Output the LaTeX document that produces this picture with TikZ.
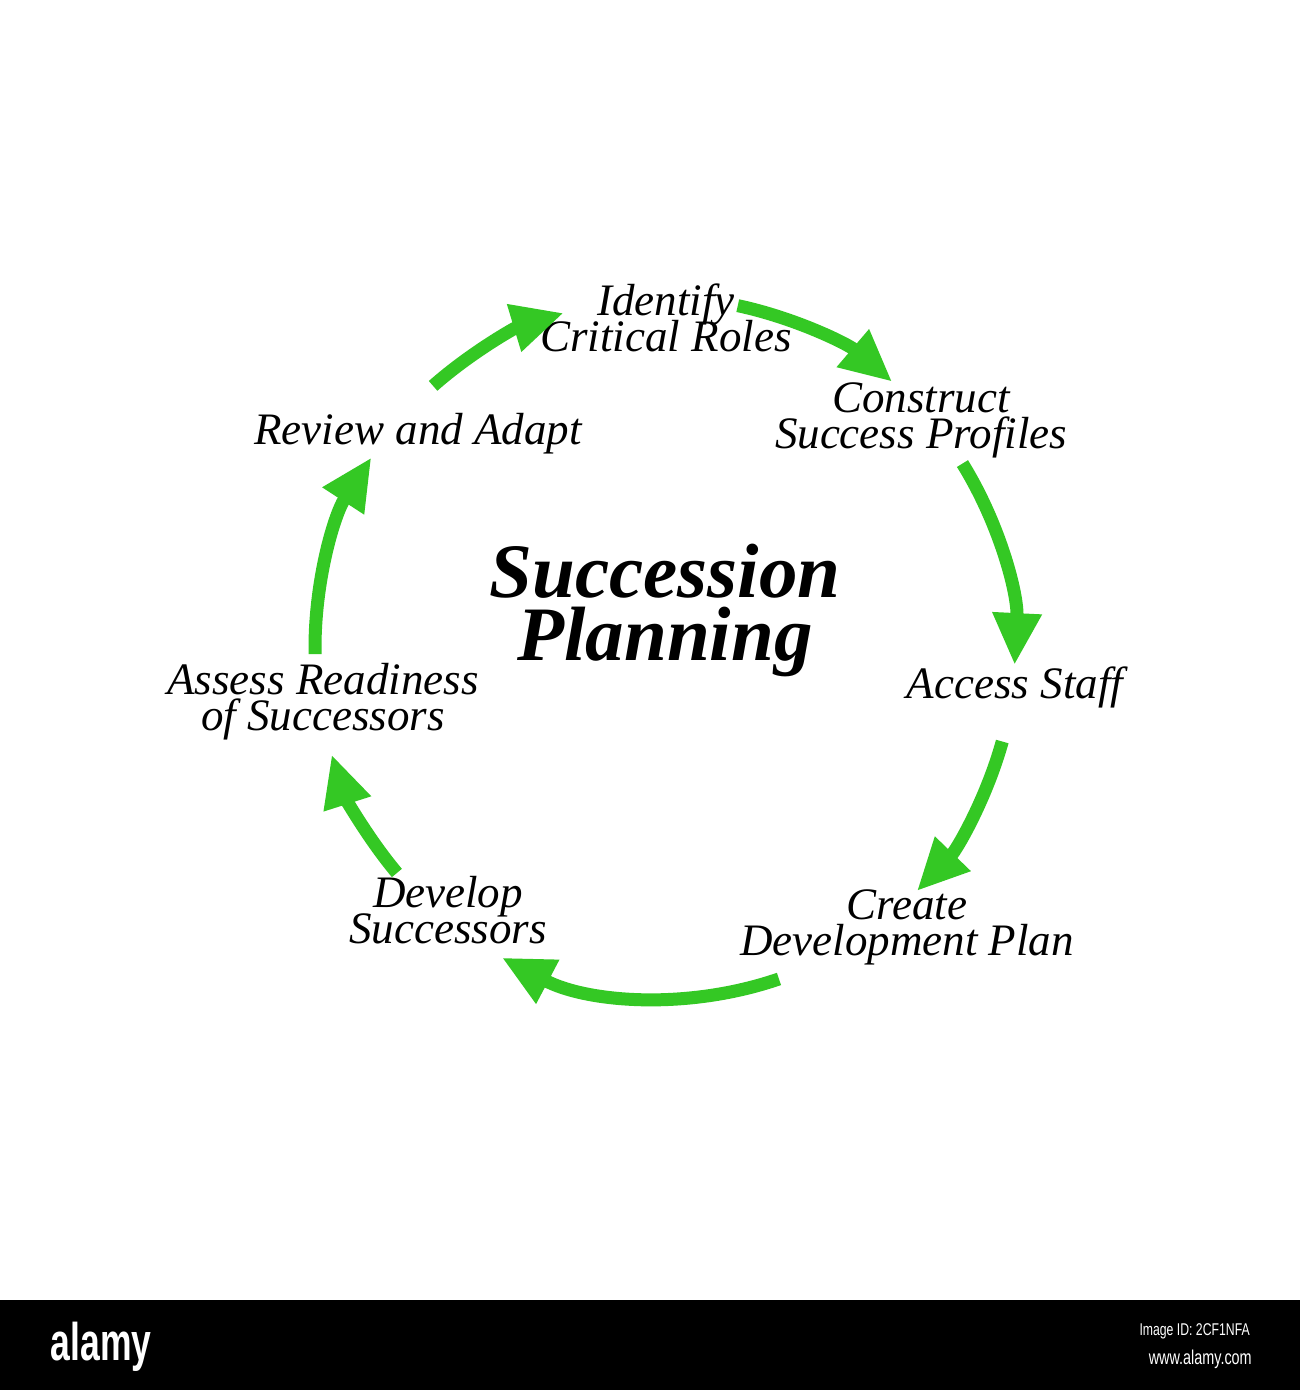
\documentclass[tikz,border=0pt]{standalone}
\usepackage{fontspec}
\setmainfont{Liberation Serif}
\newfontfamily\stockfont{Liberation Sans}
\usepackage{xcolor}
\usepackage{tikz}
\usetikzlibrary{positioning,arrows.meta,calc}
\definecolor{cyclegreen}{RGB}{52,200,36}

\begin{document}
\begin{tikzpicture}[x=0.5pt, y=-0.5pt, >=latex]
    \lineskiplimit=-100pt
    \tikzstyle{stage} = [inner sep=0pt, align=center, font=\fontsize{22.5}{18}\selectfont\itshape]
    \tikzstyle{hubtitle} = [inner sep=0pt, align=center, font=\fontsize{38.5}{31.5}\selectfont\bfseries\itshape]
    \tikzstyle{flow} = [cyclegreen, line width=6.5pt, -{Triangle[width=23pt, length=26pt]}]

    \useasboundingbox[fill=white] (0,0) rectangle (1300,1390);
    \fill[black] (0,1300) rectangle (1300,1390);

    \coordinate (hub) at (665,648);
    \node[hubtitle] (plan) at (665,610) {Succession\\Planning};

    \node[stage] (identify) at (666,318) {Identify\\Critical Roles};
    \node[stage] (construct) at (921,420) {Construct\\Success Profiles};
    \node[stage] (access) at (1015,687) {Access Staff};
    \node[stage] (create) at (907,927) {Create\\Development Plan};
    \node[stage] (develop) at (448,910) {Develop\\Successors};
    \node[stage] (assess) at (323,702) {Assess Readiness\\of Successors};
    \node[stage] (review) at (418,434) {Review and Adapt};

    \coordinate (review-out) at ($(hub)+(-131.5:350)$);
    \coordinate (identify-out) at ($(hub)+(-78:350)$);
    \coordinate (construct-out) at ($(hub)+(-31.8:350)$);
    \coordinate (access-out) at ($(hub)+(15.5:350)$);
    \coordinate (create-out) at ($(hub)+(71:350)$);
    \coordinate (develop-out) at ($(hub)+(140:350)$);
    \coordinate (assess-out) at ($(hub)+(179:350)$);

    \draw[flow] (review-out) arc[start angle=-131.5, end angle=-106.8, radius=350];
    \draw[flow] (identify-out) arc[start angle=-78, end angle=-49.5, radius=350];
    \draw[flow] (construct-out) arc[start angle=-31.8, end angle=2.8, radius=350];
    \draw[flow] (access-out) arc[start angle=15.5, end angle=44, radius=350];
    \draw[flow] (create-out) arc[start angle=71, end angle=117.8, radius=350];
    \draw[flow] (develop-out) arc[start angle=140, end angle=162.3, radius=350];
    \draw[flow] (assess-out) arc[start angle=179, end angle=213, radius=350];

    \node[white, inner sep=0pt, font=\stockfont\bfseries\fontsize{26.5}{26.5}\selectfont, xscale=0.67] (logo) at (101,1347) {alamy};
    \node[white, inner sep=0pt, anchor=east, font=\stockfont\fontsize{8.5}{8.5}\selectfont, xscale=0.72] (imageid) at (1250,1331) {Image ID: 2CF1NFA};
    \node[white, inner sep=0pt, anchor=east, font=\stockfont\fontsize{10}{10}\selectfont, xscale=0.72] (site) at (1252,1359) {www.alamy.com};
\end{tikzpicture}
\end{document}
